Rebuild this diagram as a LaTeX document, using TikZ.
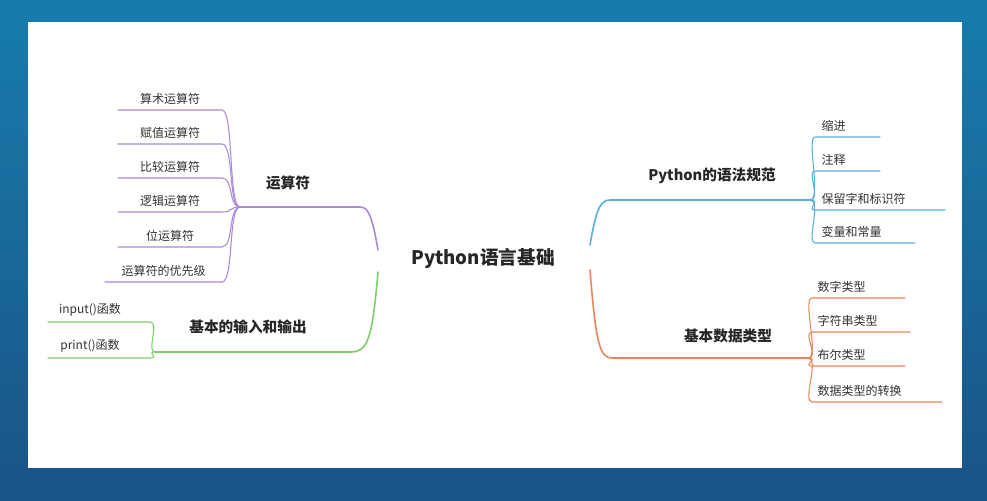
\documentclass[tikz,border=0pt]{standalone}
\usepackage{fontspec}
\setmainfont{Noto Sans CJK SC}
\begin{document}
\begin{tikzpicture}[x=0.75pt,y=-0.75pt,
  lbl/.style={font=\fontsize{9}{10}\selectfont, text=black!80, inner sep=1pt},
  big/.style={font=\fontsize{11}{12}\selectfont\bfseries, text=black!85, inner sep=1pt},
  br/.style={line width=1.2pt, line cap=round},
  lf/.style={line width=0.8pt, line cap=round}]
\definecolor{pu}{HTML}{A98AD6}\definecolor{gr}{HTML}{7CCF6A}
\definecolor{bl}{HTML}{5AAEE0}\definecolor{or}{HTML}{E9875A}
\definecolor{bg}{HTML}{1D5C97}
\useasboundingbox (0,0) rectangle (987,500);
\shade[top color=bg!80!cyan, bottom color=bg!90!black] (0,0) rectangle (987,500);
\fill[white] (28,22) rectangle (962,468);
\node[font=\fontsize{14}{16}\selectfont\bfseries, text=black!85] (c) at (483,258) {Python语言基础};
% left purple
\coordinate (p0) at (378,250); \coordinate (p1) at (360,207); \coordinate (p2) at (240,207);
\draw[pu,br] (p0) .. controls (372,215) and (368,207) .. (p1) -- (p2);
\node[big] (p) at (288,183) {运算符};
\foreach \t/\y/\l in {算术运算符/110/118, 赋值运算符/144/118, 比较运算符/178/118, 逻辑运算符/212/118, 位运算符/247/118, 运算符的优先级/282/105}{
  \draw[pu,lf] (p2) .. controls (228,207) and (234,\y) .. (222,\y) -- (\l,\y);
  \node[lbl,anchor=south] at ({(\l+222)/2},{\y-4}) {\t};
}
% green
\coordinate (g0) at (378,272); \coordinate (g1) at (350,352); \coordinate (g2) at (155,352);
\draw[gr,br] (g0) .. controls (372,340) and (368,352) .. (g1) -- (g2);
\node[big] (g) at (248,327) {基本的输入和输出};
\foreach \t/\y in {input()函数/322, print()函数/358}{
  \draw[gr,lf] (g2) .. controls (146,352) and (160,\y) .. (150,\y) -- (48,\y);
  \node[lbl,anchor=south] at (90,{\y-4}) {\t};
}
% blue
\coordinate (b0) at (590,245); \coordinate (b1) at (610,200); \coordinate (b2) at (810,200);
\draw[bl,br] (b0) .. controls (596,210) and (600,200) .. (b1) -- (b2);
\node[big] (b) at (712,176) {Python的语法规范};
\foreach \t/\y/\r in {缩进/137/880, 注释/171/880, 保留字和标识符/210/945, 变量和常量/243/915}{
  \draw[bl,lf] (b2) .. controls (822,200) and (806,\y) .. (815,\y) -- (\r,\y);
  \node[lbl,anchor=south west] at (820,{\y-4}) {\t};
}
% orange
\coordinate (o0) at (590,270); \coordinate (o1) at (612,358); \coordinate (o2) at (808,358);
\draw[or,br] (o0) .. controls (596,345) and (600,358) .. (o1) -- (o2);
\node[big] (o) at (728,336) {基本数据类型};
\foreach \t/\y/\r in {数字类型/298/905, 字符串类型/332/910, 布尔类型/366/905, 数据类型的转换/402/942}{
  \draw[or,lf] (o2) .. controls (820,358) and (802,\y) .. (812,\y) -- (\r,\y);
  \node[lbl,anchor=south west] at (816,{\y-4}) {\t};
}
\end{tikzpicture}
\end{document}
